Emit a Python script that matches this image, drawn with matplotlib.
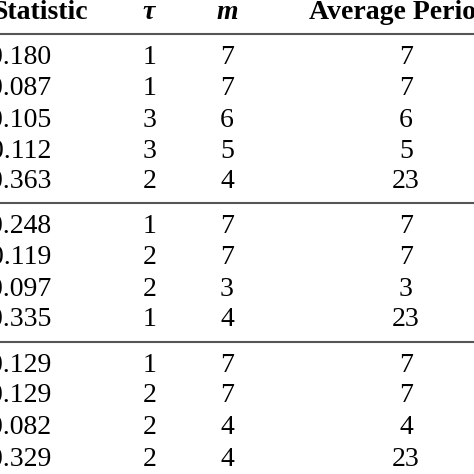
import matplotlib.pyplot as plt

statistic = ["0.180", "0.087", "0.105", "0.112", "0.363",
             "0.248", "0.119", "0.097", "0.335",
             "0.129", "0.129", "0.082", "0.329"]
tau = [1, 1, 3, 3, 2, 1, 2, 2, 1, 1, 2, 2, 2]
m_vals = [7, 7, 6, 5, 4, 7, 7, 3, 4, 7, 7, 4, 4]
avg_period = [7, 7, 6, 5, 23, 7, 7, 3, 23, 7, 7, 4, 23]
headers = ["Statistic", r"$\tau$", r"$m$", "Average Period"]

row_y = [57, 88, 120, 151, 182, 226, 257, 289, 320, 365, 396, 428, 460]
rule_y = [34, 203, 342]

fig = plt.figure(figsize=(4.74, 4.74), dpi=100)
ax = fig.add_axes([0, 0, 1, 1])
ax.set_xlim(0, 474)
ax.set_ylim(474, 0)
ax.axis("off")

plt.rcParams["mathtext.fontset"] = "custom"
plt.rcParams["mathtext.it"] = "Liberation Serif:italic:bold"
font = dict(family="Liberation Serif", fontsize=20, va="center")

# header row (cut at the edges like the source crop)
ax.text(-8, 12, headers[0], ha="left", fontweight="bold", **font)
ax.text(150, 12, headers[1], ha="center", fontweight="bold", **font)
ax.text(227, 12, headers[2], ha="center", fontweight="bold", **font)
ax.text(309, 12, headers[3], ha="left", fontweight="bold", **font)

for y, s, t, m, p in zip(row_y, statistic, tau, m_vals, avg_period):
    ax.text(51, y, s, ha="right", **font)
    ax.text(150, y, str(t), ha="center", **font)
    ax.text(227, y, str(m), ha="center", **font)
    ax.text(406, y, str(p), ha="center", **font)

for y in rule_y:
    ax.axhline(y, color="#555555", linewidth=1.5)

fig.savefig("out.png", dpi=100)
